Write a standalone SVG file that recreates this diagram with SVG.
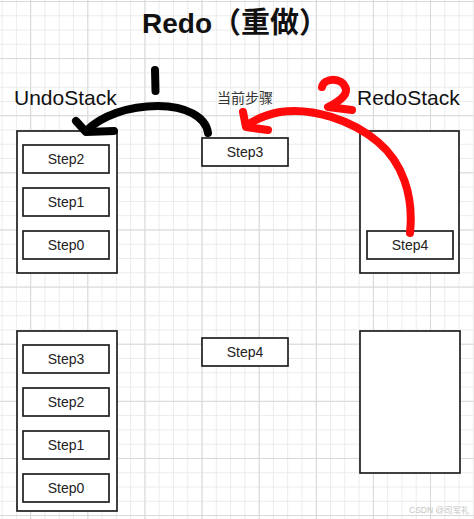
<svg xmlns="http://www.w3.org/2000/svg" width="474" height="519" viewBox="0 0 474 519">
<style>
.box{fill:#fff;stroke:#1f1f1f;stroke-width:1.7}
.lbl{font-family:"Liberation Sans",Arial,sans-serif;font-size:14px;fill:#222;text-anchor:middle}
.stk{font-family:"Liberation Sans",Arial,sans-serif;font-size:21px;fill:#111}
.blk{fill:none;stroke:#000;stroke-width:8;stroke-linecap:round;stroke-linejoin:round}
.red{fill:none;stroke:#ff0a0a;stroke-width:8;stroke-linecap:round;stroke-linejoin:round}
</style>
<defs>
<pattern id="minor" width="14.28" height="14.28" patternUnits="userSpaceOnUse" x="1.6" y="1">
<path d="M0.5 0V14.28M0 0.5H14.28" stroke="#ebebeb" stroke-width="1" fill="none"/>
</pattern>
<pattern id="major" width="57.12" height="57.12" patternUnits="userSpaceOnUse" x="30.2" y="58.1">
<path d="M0.5 0V57.12M0 0.5H57.12" stroke="#d8d8d8" stroke-width="1" fill="none"/>
</pattern>
</defs>
<rect width="474" height="519" fill="#fff"/>
<rect width="474" height="519" fill="url(#minor)"/>
<rect width="474" height="519" fill="url(#major)"/>

<text x="142" y="33" font-family="'Liberation Sans','Noto Sans CJK SC',sans-serif" font-size="28" font-weight="bold" fill="#111">Redo<tspan font-size="29">（重做）</tspan></text>
<text class="stk" x="14" y="105">UndoStack</text>
<text class="stk" x="357" y="105">RedoStack</text>
<text x="217" y="103" font-family="'Noto Sans CJK SC',sans-serif" font-size="14" fill="#333">当前步骤</text>

<g id="undo-top">
<rect class="box" x="17" y="131" width="100" height="142"/>
<g id="undo-top-step2"><rect class="box" x="23" y="145" width="86" height="28"/><text class="lbl" x="66" y="164">Step2</text></g>
<g id="undo-top-step1"><rect class="box" x="23" y="188" width="86" height="28"/><text class="lbl" x="66" y="207">Step1</text></g>
<g id="undo-top-step0"><rect class="box" x="23" y="231" width="86" height="28"/><text class="lbl" x="66" y="250">Step0</text></g>
</g>
<g id="current-top"><rect class="box" x="202" y="138" width="86" height="28"/><text class="lbl" x="245" y="157">Step3</text></g>
<g id="redo-top">
<rect class="box" x="360" y="131" width="99" height="142"/>
<g id="redo-top-step4"><rect class="box" x="367" y="231" width="86" height="28"/><text class="lbl" x="410" y="250">Step4</text></g>
</g>

<g id="undo-bottom">
<rect class="box" x="17" y="331" width="100" height="180"/>
<g id="undo-bottom-step3"><rect class="box" x="23" y="345" width="86" height="28"/><text class="lbl" x="66" y="364">Step3</text></g>
<g id="undo-bottom-step2"><rect class="box" x="23" y="388" width="86" height="28"/><text class="lbl" x="66" y="407">Step2</text></g>
<g id="undo-bottom-step1"><rect class="box" x="23" y="431" width="86" height="28"/><text class="lbl" x="66" y="450">Step1</text></g>
<g id="undo-bottom-step0"><rect class="box" x="23" y="474" width="86" height="28"/><text class="lbl" x="66" y="493">Step0</text></g>
</g>
<g id="current-bottom"><rect class="box" x="202" y="338" width="86" height="28"/><text class="lbl" x="245" y="357">Step4</text></g>
<g id="redo-bottom"><rect class="box" x="360" y="331" width="100" height="142"/></g>

<g id="connectors">
<path class="blk" d="M155,70 L155.5,91"/>
<path class="blk" d="M208,133 C206,117 186,106 158,106 C128,106 101,116 86,131"/>
<path class="blk" d="M76,121 L86,132 L114,131"/>
<path class="red" stroke-width="10" d="M322,87 C324,78 342,76 346,89 C347,97 336,103 328,107 L352,110"/>
<path class="red" d="M410,233 C414,195 402,162 378,142 C352,120 312,107 280,112 C265,115 254,120 246,126"/>
<path class="red" d="M243,112 L246,127 L268,130"/>
</g>

<text x="409" y="513" font-family="'Liberation Sans','Noto Sans CJK SC',sans-serif" font-size="8.5" fill="#c4c4c4">CSDN @司军礼</text>
</svg>
